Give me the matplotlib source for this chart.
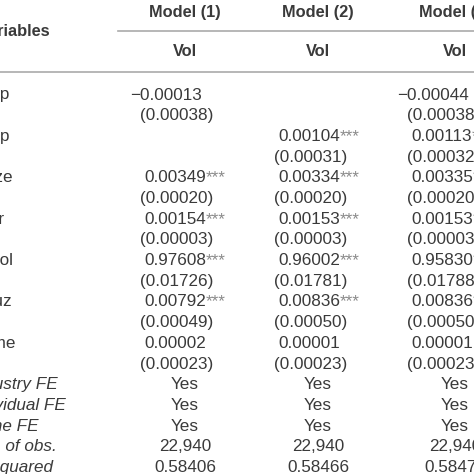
import matplotlib.pyplot as plt
from matplotlib.lines import Line2D

plt.rcParams['font.family'] = ['Liberation Sans', 'DejaVu Sans']

models = ['Model (1)', 'Model (2)', 'Model (3)']
depvar = ['Vol', 'Vol', 'Vol']
variables = ['Disp', 'Gap', 'Size', 'Tur', 'Lnvol', 'Xuz', 'Time']
coefs = [
    ['\u22120.00013', '', '\u22120.00044'],
    ['', '0.00104***', '0.00113***'],
    ['0.00349***', '0.00334***', '0.00335***'],
    ['0.00154***', '0.00153***', '0.00153***'],
    ['0.97608***', '0.96002***', '0.95830***'],
    ['0.00792***', '0.00836***', '0.00836***'],
    ['0.00002', '0.00001', '0.00001'],
]
ses = [
    ['(0.00038)', '', '(0.00038)'],
    ['', '(0.00031)', '(0.00032)'],
    ['(0.00020)', '(0.00020)', '(0.00020)'],
    ['(0.00003)', '(0.00003)', '(0.00003)'],
    ['(0.01726)', '(0.01781)', '(0.01788)'],
    ['(0.00049)', '(0.00050)', '(0.00050)'],
    ['(0.00023)', '(0.00023)', '(0.00023)'],
]
var_label_end = [10, 10, 13, 5, 14, 12, 16]
footer_labels = ['Industry FE', 'Individual FE', 'Time FE', 'No. of obs.', 'R-squared']
footer_label_end = [58, 66, 38, 57, 53]
footer_values = [
    ['Yes', 'Yes', 'Yes'],
    ['Yes', 'Yes', 'Yes'],
    ['Yes', 'Yes', 'Yes'],
    ['22,940', '22,940', '22,940'],
    ['0.58406', '0.58466', '0.58470'],
]

W = H = 474
fig = plt.figure(figsize=(4.74, 4.74), dpi=100)
col_center = [185, 318, 455]
coef_x = [144, 278, 411]
par_x = [140, 274, 407]
fs = 12.3
color = '#3a3a3a'


def t(x, y, s, **kw):
    kw.setdefault('color', color)
    kw.setdefault('fontsize', fs)
    fig.text(x / W, 1 - y / H, s, va='center', **kw)


def num(x, y, s):
    # coefficient with grey significance stars, minus sign hanging left
    if not s:
        return
    base = s.rstrip('*')
    stars = s[len(base):]
    if base.startswith('\u2212'):
        x -= 14
    txt = fig.text(x / W, 1 - y / H, base, va='center', fontsize=fs, color=color)
    if stars:
        fig.canvas.draw()
        bb = txt.get_window_extent()
        fig.text(bb.x1 / W, 1 - y / H, stars, va='center', fontsize=fs, color='#8a8a8a')


# header
for i in range(3):
    t(col_center[i], 12, models[i], ha='center', fontweight='bold', fontsize=fs - 0.5)
    t(col_center[i], 52, depvar[i], ha='center', fontweight='bold', fontsize=fs - 0.5)
t(51, 32, 'Variables', ha='right', fontweight='bold', fontsize=fs - 0.5)
fig.add_artist(Line2D([118 / W, 1], [1 - 31 / H] * 2, color='#aaaaaa', lw=1.2))
fig.add_artist(Line2D([0, 1], [1 - 72 / H] * 2, color='#aaaaaa', lw=1.2))

step = 20.7
y = 95
for v, lab in enumerate(variables):
    t(var_label_end[v], y, lab, ha='right')
    for i in range(3):
        num(coef_x[i], y, coefs[v][i])
        if ses[v][i]:
            t(par_x[i], y + step, ses[v][i])
    y += 2 * step

for r, lab in enumerate(footer_labels):
    t(footer_label_end[r], y, lab, ha='right', style='italic')
    for i in range(3):
        t(col_center[i], y, footer_values[r][i], ha='center')
    y += step

fig.savefig('out.png', dpi=100)
